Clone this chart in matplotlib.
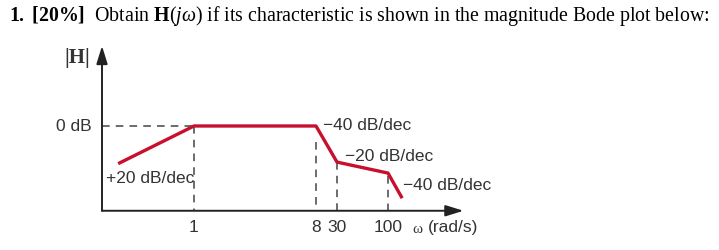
import matplotlib
matplotlib.use("Agg")
import matplotlib.pyplot as plt
import numpy as np

plt.rcParams["font.family"] = ["Liberation Sans", "DejaVu Sans"]
plt.rcParams["mathtext.fontset"] = "custom"
plt.rcParams["mathtext.rm"] = "Liberation Serif"
plt.rcParams["mathtext.it"] = "Liberation Serif:italic"
plt.rcParams["mathtext.bf"] = "Liberation Serif:bold"

# asymptotic Bode magnitude (schematic)
omega = [0.15, 1, 8, 30, 100, 140]
mag_db = [-24, 0, 0, -23, -30, -46]
tick_w = [1, 8, 30, 100]
tick_labels = ["1", "8", "30", "100"]
slope_labels = ["+20 dB/dec", "\u221240 dB/dec", "\u221220 dB/dec", "\u221240 dB/dec"]
title = (r"$\mathbf{1.\ [20\%]}$  Obtain $\mathbf{H}(j\omega)$ if its characteristic "
         "is shown in the magnitude Bode plot below:")

# schematic (non-uniform) frequency axis, like the textbook drawing
LOGS = [-4, -1, 0, np.log10(8), np.log10(30), 2, 6]
PX = [-174, 102, 194, 316, 337, 388, 776]

def fwd(w):
    return np.interp(np.log10(np.clip(w, 1e-12, None)), LOGS, PX)

def inv(p):
    return 10 ** np.interp(p, PX, LOGS)

red = "#c8102e"
grey = "#333333"
W, H = 719, 251

fig = plt.figure(figsize=(W / 100, H / 100), dpi=100)
ax = fig.add_axes([0, 0, 1, 1])
ax.set_xscale("function", functions=(fwd, inv))
ax.set_xlim(inv(0), inv(W))
ax.set_ylim(-79.0, 80.9)
ax.axis("off")

# axes with arrows
x0, x1 = 0.1, 600
y0, y1 = -54, 51
arrow = dict(arrowstyle="-|>,head_length=0.9,head_width=0.28",
             color="#222222", lw=1.4, shrinkA=0, shrinkB=0, mutation_scale=12)
ax.annotate("", xy=(x1, y0), xytext=(x0, y0), arrowprops=arrow)
ax.annotate("", xy=(x0, y1), xytext=(x0, y0), arrowprops=arrow)

# dashed guides
dash = dict(color="#444444", lw=1.1, ls=(0, (5, 4)))
ax.plot([x0, 1], [0, 0], **dash)
ax.plot([1, 1], [0, y0], **dash)
ax.plot([8, 8], [-10, y0], **dash)
ax.plot([30, 30], [-23, y0], **dash)
ax.plot([100, 100], [-32, y0], **dash)

ax.plot(omega, mag_db, color=red, lw=2.4, solid_capstyle="butt", zorder=5)

fs = 12.5
ax.text(inv(92), 0, "0 dB", ha="right", va="center", fontsize=fs, color=grey)
ax.text(inv(77), 44, "|H|", ha="center", va="center", fontsize=15, color=grey,
        family="Liberation Serif", weight="bold")
for w, lab in zip(tick_w, tick_labels):
    ax.text(w, -64, lab, ha="center", va="center", fontsize=fs, color=grey)
ax.text(inv(417), -65, "\u03c9", ha="center", va="center", fontsize=11, color=grey,
        family="Liberation Serif")
ax.text(inv(428), -64, "(rad/s)", ha="left", va="center", fontsize=fs, color=grey)

ax.text(inv(106), -32.5, slope_labels[0], ha="left", va="center", fontsize=fs, color=grey)
ax.text(inv(323), 1, slope_labels[1], ha="left", va="center", fontsize=fs, color=grey)
ax.text(inv(345), -19, slope_labels[2], ha="left", va="center", fontsize=fs, color=grey)
ax.text(inv(403), -37, slope_labels[3], ha="left", va="center", fontsize=fs, color=grey)

fig.text(9 / W, 1 - 16 / H, title, ha="left", va="center", fontsize=14.3,
         family="Liberation Serif", color="black")

fig.savefig("out.png", dpi=100)
